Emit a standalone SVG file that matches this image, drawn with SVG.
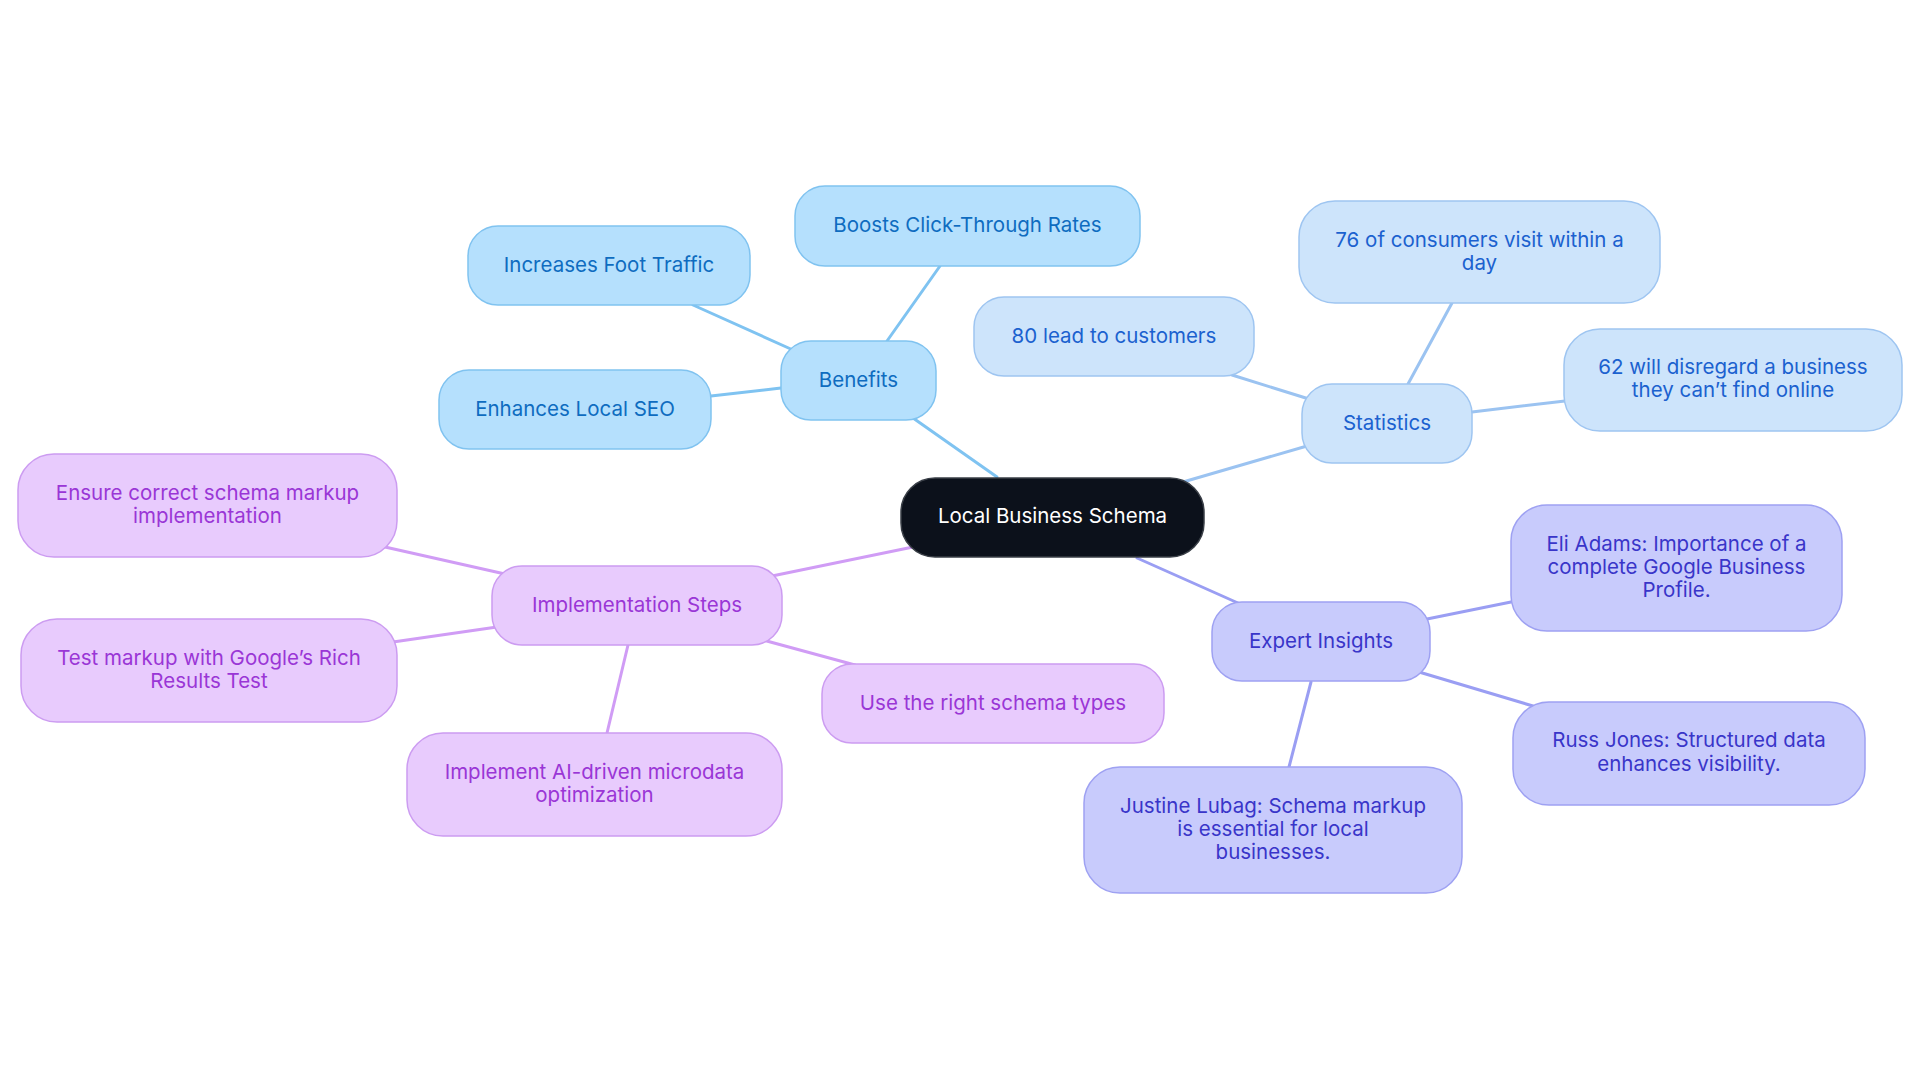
<svg xmlns="http://www.w3.org/2000/svg" width="1920" height="1083" viewBox="0 0 1920 1083">
<style>
text{font-family:Inter,"Noto Sans","Liberation Sans",sans-serif;font-size:20.5px;text-anchor:middle}
.c line{stroke-width:3;stroke-linecap:round}
.cb{stroke:#7fc3f1}.cs{stroke:#9bc3f1}.ce{stroke:#9a9ef3}.ci{stroke:#d09cf5}
.nb rect{fill:#b5e0fd;stroke:#80c3f0;stroke-width:1.5}.nb text{fill:#0e6cc0}
.ns rect{fill:#cde4fb;stroke:#9ec5f1;stroke-width:1.5}.ns text{fill:#1b61cf}
.ne rect{fill:#c8cbfc;stroke:#9ea1f2;stroke-width:1.5}.ne text{fill:#3935c9}
.ni rect{fill:#e8cbfd;stroke:#cc9cf1;stroke-width:1.5}.ni text{fill:#9a36d6}
.root rect{fill:#0c111b;stroke:#3a3f47;stroke-width:1.5}.root text{fill:#ffffff}
</style>
<rect width="1920" height="1083" fill="#ffffff"/>
<g id="connectors" class="c">
<line class="cb" x1="997" y1="477" x2="913" y2="418"/>
<line class="cs" x1="1183" y1="482" x2="1307" y2="446"/>
<line class="ci" x1="913" y1="547" x2="772" y2="576"/>
<line class="ce" x1="1137" y1="558" x2="1238" y2="603"/>
<line class="cb" x1="887" y1="341" x2="940" y2="266"/>
<line class="cb" x1="793" y1="350" x2="693" y2="305"/>
<line class="cb" x1="781" y1="388" x2="711" y2="396"/>
<line class="cs" x1="1309" y1="399" x2="1232" y2="375"/>
<line class="cs" x1="1408" y1="384" x2="1452" y2="303"/>
<line class="cs" x1="1472" y1="412" x2="1565" y2="401"/>
<line class="ce" x1="1427" y1="619" x2="1511" y2="602"/>
<line class="ce" x1="1419" y1="672" x2="1533" y2="706"/>
<line class="ce" x1="1311" y1="682" x2="1289" y2="767"/>
<line class="ci" x1="505" y1="574" x2="385" y2="547"/>
<line class="ci" x1="497" y1="627" x2="393" y2="642"/>
<line class="ci" x1="628" y1="645" x2="607" y2="733"/>
<line class="ci" x1="763" y1="640" x2="855" y2="665"/>
</g>
<g id="root" class="root"><rect x="901" y="478" width="303" height="79" rx="34"/><text x="1052.5" y="523">Local Business Schema</text></g>
<g id="benefits" class="nb"><rect x="781" y="341" width="155" height="79" rx="30"/><text x="858.5" y="387">Benefits</text></g>
<g id="boosts" class="nb"><rect x="795" y="186" width="345" height="80" rx="30"/><text x="967.5" y="232">Boosts Click-Through Rates</text></g>
<g id="increases" class="nb"><rect x="468" y="226" width="282" height="79" rx="30"/><text x="609" y="272">Increases Foot Traffic</text></g>
<g id="enhances" class="nb"><rect x="439" y="370" width="272" height="79" rx="30"/><text x="575" y="416">Enhances Local SEO</text></g>
<g id="statistics" class="ns"><rect x="1302" y="384" width="170" height="79" rx="30"/><text x="1387" y="430">Statistics</text></g>
<g id="stat80" class="ns"><rect x="974" y="297" width="280" height="79" rx="30"/><text x="1114" y="343">80 lead to customers</text></g>
<g id="stat76" class="ns"><rect x="1299" y="201" width="361" height="102" rx="36"/><text x="1479.5" y="247">76 of consumers visit within a</text><text x="1479.5" y="270">day</text></g>
<g id="stat62" class="ns"><rect x="1564" y="329" width="338" height="102" rx="36"/><text x="1733" y="374">62 will disregard a business</text><text x="1733" y="397">they can’t find online</text></g>
<g id="expert" class="ne"><rect x="1212" y="602" width="218" height="79" rx="30"/><text x="1321" y="648">Expert Insights</text></g>
<g id="eli" class="ne"><rect x="1511" y="505" width="331" height="126" rx="36"/><text x="1676.5" y="551">Eli Adams: Importance of a</text><text x="1676.5" y="574">complete Google Business</text><text x="1676.5" y="597">Profile.</text></g>
<g id="russ" class="ne"><rect x="1513" y="702" width="352" height="103" rx="36"/><text x="1689" y="747">Russ Jones: Structured data</text><text x="1689" y="771">enhances visibility.</text></g>
<g id="justine" class="ne"><rect x="1084" y="767" width="378" height="126" rx="36"/><text x="1273" y="813">Justine Lubag: Schema markup</text><text x="1273" y="836">is essential for local</text><text x="1273" y="859">businesses.</text></g>
<g id="impl" class="ni"><rect x="492" y="566" width="290" height="79" rx="30"/><text x="637" y="612">Implementation Steps</text></g>
<g id="ensure" class="ni"><rect x="18" y="454" width="379" height="103" rx="36"/><text x="207.5" y="500">Ensure correct schema markup</text><text x="207.5" y="523">implementation</text></g>
<g id="test" class="ni"><rect x="21" y="619" width="376" height="103" rx="36"/><text x="209" y="665">Test markup with Google’s Rich</text><text x="209" y="688">Results Test</text></g>
<g id="aidriven" class="ni"><rect x="407" y="733" width="375" height="103" rx="36"/><text x="594.5" y="779">Implement AI-driven microdata</text><text x="594.5" y="802">optimization</text></g>
<g id="usetypes" class="ni"><rect x="822" y="664" width="342" height="79" rx="30"/><text x="993" y="710">Use the right schema types</text></g>
</svg>
